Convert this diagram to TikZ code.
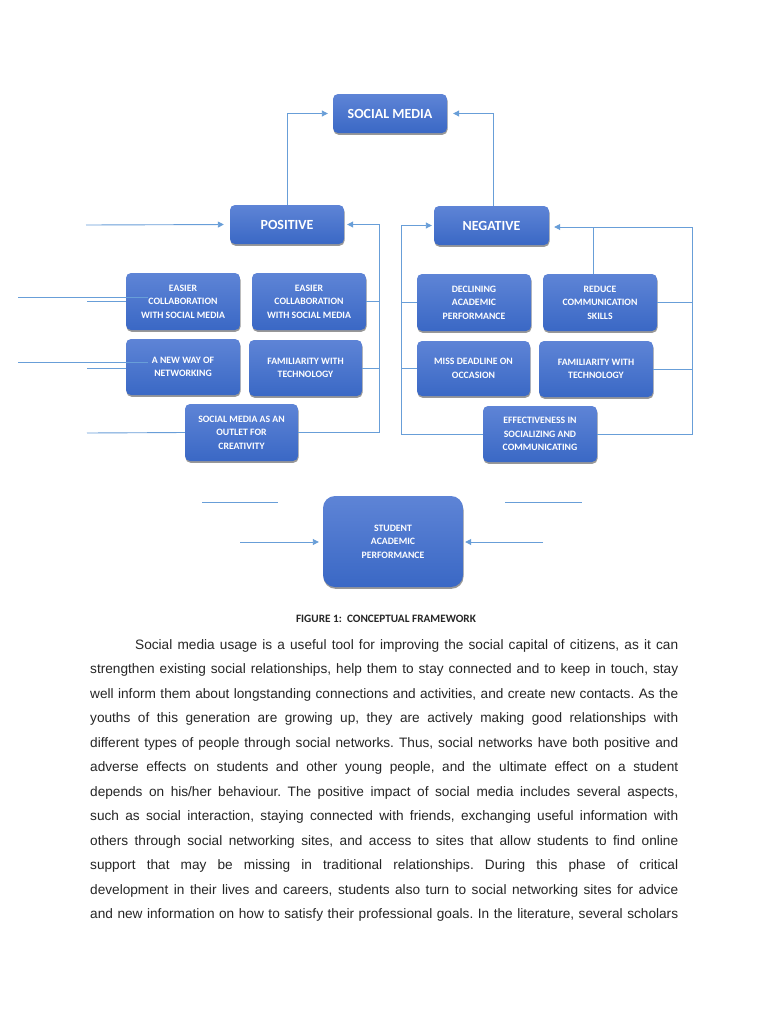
\documentclass[tikz,border=0pt]{standalone}
\usepackage{fontspec}
\usetikzlibrary{arrows.meta,shadows}
\newfontfamily\boxfont{Carlito}
\newfontfamily\bodyfont{Liberation Sans}
\definecolor{boxtop}{RGB}{94,132,214}
\definecolor{boxbot}{RGB}{58,104,197}
\definecolor{linkblue}{RGB}{104,158,216}
\definecolor{bodygray}{RGB}{38,38,38}
\tikzset{
  box/.style={rounded corners=5bp, top color=boxtop, bottom color=boxbot, draw=none,
    drop shadow={shadow xshift=0.5bp,shadow yshift=-1.8bp,fill=black!80,opacity=0.5},
    text=white, align=center, inner sep=0pt, minimum width=114bp, minimum height=57bp,
    font=\boxfont\bfseries\fontsize{9.8}{13.4}\selectfont},
  bigbox/.style={box, minimum height=39bp, font=\boxfont\bfseries\fontsize{14}{16}\selectfont},
  link/.style={draw=linkblue, line width=0.9bp},
}
\begin{document}
\begin{tikzpicture}[x=1bp, y=-1bp, >={Triangle[length=6bp,width=6bp]}]
        \useasboundingbox[fill=white] (0,0) rectangle (768,1024);
        % top level
        \node[bigbox] (sm) at (390,113.5) {SOCIAL MEDIA};
        \node[bigbox] (pos) at (287,224.5) {POSITIVE};
        \node[bigbox, minimum width=115bp] (neg) at (491.5,225.5) {NEGATIVE};
        % positive side
        \node[box] (pe1) at (183,301.5) {EASIER\\COLLABORATION\\WITH SOCIAL MEDIA};
        \node[box] (pe2) at (309,301.5) {EASIER\\COLLABORATION\\WITH SOCIAL MEDIA};
        \node[box, minimum height=56bp] (pnw) at (183,367) {A NEW WAY OF\\NETWORKING};
        \node[box, minimum width=113bp, minimum height=56bp] (pft) at (305.5,368) {FAMILIARITY WITH\\TECHNOLOGY};
        \node[box, minimum width=113bp] (pso) at (241.5,432.5) {SOCIAL MEDIA AS AN\\OUTLET FOR\\CREATIVITY};
        % negative side
        \node[box] (nda) at (474,302.5) {DECLINING\\ACADEMIC\\PERFORMANCE};
        \node[box] (nrc) at (600,302.5) {REDUCE\\COMMUNICATION\\SKILLS};
        \node[box, minimum width=113bp, minimum height=55bp] (nmd) at (473.5,368.5) {MISS DEADLINE ON\\OCCASION};
        \node[box, minimum height=56bp] (nft) at (596,369) {FAMILIARITY WITH\\TECHNOLOGY};
        \node[box, minimum height=56bp] (nes) at (540,434) {EFFECTIVENESS IN\\SOCIALIZING AND\\COMMUNICATING};
        % outcome
        \node[box, rounded corners=12bp, minimum width=140bp, minimum height=91bp] (sap) at (393,541.5) {STUDENT\\ACADEMIC\\PERFORMANCE};
        \node[font=\boxfont\bfseries\fontsize{11.3}{13}\selectfont, text=black!85, inner sep=0pt] (cap) at (386,619) {FIGURE 1:\ \ CONCEPTUAL FRAMEWORK};
        % bus points and loose ends
        \coordinate (pbus) at (379,224.5);
        \coordinate (nbusl) at (401,225.5);
        \coordinate (nbusr) at (692,225.5);
        \coordinate (inp) at (86,225);
        \coordinate (in1a) at (18,297.3);  \coordinate (in1e) at (148,297.3);
        \coordinate (in1b) at (87,301.7);
        \coordinate (in2a) at (18,362.3);  \coordinate (in2e) at (148,362.3);
        \coordinate (in2b) at (87,368.3);
        \coordinate (in3) at (87,433);
        \coordinate (sl1) at (202,502);  \coordinate (sl2) at (278,502);
        \coordinate (sr1) at (505,502);  \coordinate (sr2) at (582,502);
        \coordinate (sal) at (240,542);  \coordinate (sar) at (543,542);
        % to social media
        \draw[link, ->, shorten >=5bp] (pos.north) |- (sm.west);
        \draw[link, ->, shorten >=6bp] ([xshift=1.5bp]neg.north) |- (sm.east);
        \draw[link, ->, shorten >=6bp] (inp) -- (pos.west);
        % positive bus
        \draw[link, ->, shorten >=3bp] (pso.east) -| (pbus) -- (pos.east);
        \draw[link] (pe2.east) -- (pe2.east -| pbus);
        \draw[link] (pft.east) -- (pft.east -| pbus);
        % negative buses
        \draw[link, ->, shorten >=2bp] (nes.west) -| (nbusl) -- (neg.west);
        \draw[link] (nda.west) -- (nda.west -| nbusl);
        \draw[link] (nmd.west) -- (nmd.west -| nbusl);
        \draw[link, ->, shorten >=5bp] (nes.east) -| ([yshift=-1.5bp]nbusr) -- ([yshift=-1.5bp]neg.east);
        \draw[link] ([xshift=-7bp]nrc.north) -- ([xshift=-7bp,yshift=-1.5bp]nrc.north |- neg.east);
        \draw[link] (nrc.east) -- (nrc.east -| nbusr);
        \draw[link] (nft.east) -- (nft.east -| nbusr);
        % loose lines on the left
        \draw[link] (in1a) -- (in1e);
        \draw[link] (in1b) -- (in1b -| pe1.west);
        \draw[link] (in2a) -- (in2e);
        \draw[link] (in2b) -- (in2b -| pnw.west);
        \draw[link] (in3) -- (pso.west);
        % round the outcome box
        \draw[link] (sl1) -- (sl2);
        \draw[link] (sr1) -- (sr2);
        \draw[link, ->, shorten >=4bp] (sal) -- (sal -| sap.west);
        \draw[link, ->, shorten >=2bp] (sar) -- (sar -| sap.east);
        % body text
        \node[anchor=base west, text width=588bp, align=justify, inner sep=0pt, text=bodygray,
              font=\bodyfont\fontsize{13.7}{24.6}\selectfont\frenchspacing] (body) at (90,649) {%
          \hspace*{45bp}Social media usage is a useful tool for improving the social capital of citizens, as it can\linebreak
          strengthen existing social relationships, help them to stay connected and to keep in touch, stay\linebreak
          well inform them about longstanding connections and activities, and create new contacts. As the\linebreak
          youths of this generation are growing up, they are actively making good relationships with\linebreak
          different types of people through social networks. Thus, social networks have both positive and\linebreak
          adverse effects on students and other young people, and the ultimate effect on a student\linebreak
          depends on his/her behaviour. The positive impact of social media includes several aspects,\linebreak
          such as social interaction, staying connected with friends, exchanging useful information with\linebreak
          others through social networking sites, and access to sites that allow students to find online\linebreak
          support that may be missing in traditional relationships. During this phase of critical\linebreak
          development in their lives and careers, students also turn to social networking sites for advice\linebreak
          and new information on how to satisfy their professional goals. In the literature, several scholars%
          \parfillskip=0pt\par};
\end{tikzpicture}
\end{document}
